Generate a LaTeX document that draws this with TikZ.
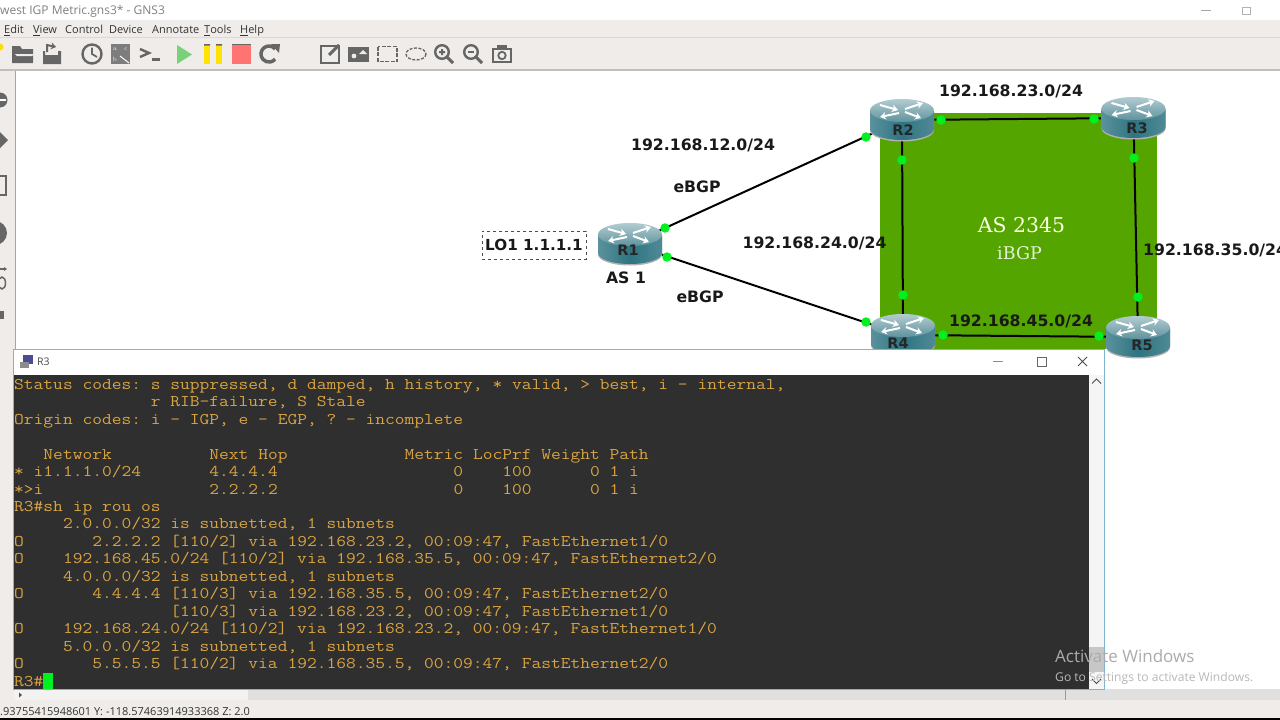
\documentclass[tikz,border=0pt]{standalone}
\usepackage{fontspec}
\usepackage{graphicx}
\usetikzlibrary{arrows.meta}
\newfontfamily\labfont[Scale=1]{DejaVu Sans}
\newfontfamily\uifont{Open Sans}
\newfontfamily\asfont{DejaVu Serif}
\definecolor{dock}{HTML}{F0ECE9}
\definecolor{grn}{HTML}{55A500}
\definecolor{dot}{HTML}{00F020}
\definecolor{term}{HTML}{2F2F2F}
\definecolor{termtx}{HTML}{D9A441}
\definecolor{ico}{HTML}{666666}
\definecolor{winb}{HTML}{7FB4D4}
\definecolor{rbodyl}{HTML}{5A929C}
\definecolor{rbodym}{HTML}{2F7482}
\definecolor{rbodyr}{HTML}{4F8A95}
\definecolor{rtopa}{HTML}{B2CCD1}
\definecolor{rtopb}{HTML}{5F939D}
\tikzset{
 lab/.style={inner sep=0pt,text=black!90,font=\labfont\bfseries\fontsize{15.7}{18}\selectfont},
 link/.style={draw=black,line width=2pt},
 gdot/.style={circle,fill=dot,inner sep=0pt,minimum size=9.5pt},
 rtr/.style={inner sep=0pt,minimum width=64pt,minimum height=43pt},
 rlab/.style={inner sep=0pt,text=black!85,font=\labfont\bfseries\fontsize{14.5}{16}\selectfont},
 tl/.style={inner sep=0pt,anchor=base west,text=termtx,font=\ttfamily\fontsize{16.27}{18}\selectfont},
 ui/.style={inner sep=0pt,anchor=base west,text=black!80,font=\uifont\fontsize{11}{13}\selectfont},
 rarrow/.style={white,line width=2pt,-{Stealth[length=6pt,width=7.5pt]}},
 icl/.style={draw=ico,line width=2.4pt},
}
\newcommand\routerart[2]{%
 \begin{scope}[shift={(#1,#2)}]
  \fill[black!30] (-32,-8) -- (-32,10.5) arc[x radius=32,y radius=11,start angle=180,end angle=0] -- (32,-8) -- cycle;
  \shade[left color=rbodyl,right color=rbodyr,middle color=rbodym] (-32,-9) -- (-32,9) arc[x radius=32,y radius=11,start angle=180,end angle=0] -- (32,-9) -- cycle;
  \shade[top color=rtopa,bottom color=rtopb] (0,-9.5) ellipse[x radius=32,y radius=11.5];
  \draw[rarrow] (-22,-15) -- (-4,-10);
  \draw[rarrow] (3,-11) -- (21,-17);
  \draw[rarrow] (-3,-7) -- (-22,-3);
  \draw[rarrow] (3,-8) -- (19,-2);
 \end{scope}}
\newcommand\tline[3]{\node[tl] (#1) at (14,#2) {\scalebox{1.165}[1]{\frenchspacing #3}};}
\def\sk#1{\kern#1\dimexpr8.38pt\relax}
\begin{document}
\begin{tikzpicture}[x=1pt,y=-1pt]
\useasboundingbox (0,0) rectangle (1280,720);
\fill[white] (0,0) rectangle (1280,720);
% title + menu
\node[ui,text=black!50,font=\uifont\fontsize{12}{14}\selectfont] (title) at (0,14) {west IGP Metric.gns3* - GNS3};
\draw[black!35,line width=1pt] (1201,10) -- (1211,10);
\draw[black!30,line width=1pt] (1242,7) rectangle (1250,14);
\fill[dock] (0,20) rectangle (1280,70);
\draw[black!15] (0,37.5) -- (1280,37.5);
\fill[black!25] (0,69) rectangle (1280,71);
\node[ui] (m1) at (4,34) {\underline{E}dit};
\node[ui] (m2) at (33,34) {\underline{V}iew};
\node[ui] (m3) at (65,34) {Control};
\node[ui] (m4) at (109,34) {Device};
\node[ui] (m5) at (152,34) {Annotate};
\node[ui] (m6) at (204,34) {\underline{T}ools};
\node[ui] (m7) at (240,34) {\underline{H}elp};
% toolbar icons
\fill[yellow!80!orange] (0,47) circle (3.5);
\fill[ico] (12,46) -- (20,46) -- (22,49) -- (33,49) -- (33,63) -- (12,63) -- cycle;
\fill[dock] (15,54) -- (34,54) -- (32,56) -- (17,56) -- cycle;
\fill[ico] (43,51) -- (45,51) -- (45,55) -- (58,55) -- (58,51) -- (61,51) -- (61,64) -- (43,64) -- cycle;
\draw[ico,line width=2pt,-{Stealth[length=5pt,width=7pt]}] (47,52) -- (47,45) -- (56,47);
\draw[icl] (92,54) circle (9.5);
\draw[ico,line width=1.8pt] (92,47.5) -- (92,54) -- (97,57);
\fill[ico!85] (111,44) rectangle (130,64);
\draw[white,line width=1pt] (120,56) -- (129,63);
\node[inner sep=0pt,text=white,font=\fontsize{6}{6}\selectfont] (ia) at (115,49) {a};
\node[inner sep=0pt,text=white,font=\fontsize{6}{6}\selectfont] (ic) at (126,49) {c};
\node[inner sep=0pt,text=white,font=\fontsize{6}{6}\selectfont] (ibb) at (115,59) {b};
\draw[ico,line width=2.4pt] (140,49) -- (149,53) -- (140,57);
\draw[ico,line width=2.4pt] (152,59.5) -- (160,59.5);
\fill[green!50!gray!70!white] (177,45) -- (177,64) -- (192,54.5) -- cycle;
\fill[yellow!85!orange] (204,45) rectangle (210,64);
\fill[yellow!85!orange] (216,45) rectangle (222,64);
\fill[black!60] (204,44) rectangle (210,45.5) (216,44) rectangle (222,45.5);
\fill[red!55!white] (232,45) rectangle (251,64);
\fill[black!60] (232,44) rectangle (251,45);
\draw[ico,line width=3.5pt] (275.1,48.9) arc[start angle=-40,end angle=-320,radius=8];
\fill[ico] (271,44) -- (280,44) -- (279,53) -- cycle;
\draw[icl] (321,46) rectangle (339,63);
\draw[ico,line width=3pt] (329,55) -- (339,45);
\fill[ico] (348,47) rectangle (369,62);
\fill[dock] (354,56) circle (2.4);
\fill[dock] (359,54) -- (367,54) -- (363,50) -- cycle;
\draw[ico,line width=1.7pt,dash pattern=on 4pt off 1.5pt] (378,46.5) rectangle (397,61.5);
\draw[ico,line width=1.3pt,dash pattern=on 3pt off 1.5pt] (416,54) ellipse[x radius=10,y radius=6];
\draw[icl] (442,52) circle (6.8);
\draw[ico,line width=3pt] (447,57) -- (453,63);
\fill[ico] (439,51) rectangle (445,53) (441,49) rectangle (443,55);
\draw[icl] (471,52) circle (6.8);
\draw[ico,line width=3pt] (476,57) -- (482,63);
\fill[ico] (468,51) rectangle (474,53);
\draw[icl] (493,49) rectangle (511,62);
\fill[ico] (497,45) rectangle (507,48);
\draw[ico,line width=1.8pt] (502,55.5) circle (3.7);
% left dock
\fill[dock] (0,71) rectangle (15,720);
\draw[black!35,line width=1pt] (15,71) -- (15,350);
\fill[ico] (0,100) circle (7.5);
\fill[white] (0,99) rectangle (6,101);
\fill[ico] (0,132) -- (8,140) -- (0,148) -- cycle;
\draw[ico,line width=2.5pt] (-2,176) rectangle (6,195);
\fill[ico] (-5,233) circle (12);
\draw[ico,line width=1.5pt,-{Stealth[length=3pt,width=4pt]}] (0,269) -- (7,269);
\draw[ico,line width=1.5pt] (2,283) ellipse[x radius=3.5,y radius=6];
\fill[ico] (0,311) rectangle (4,319);
% bottom
\fill[dock] (0,700) rectangle (1280,718);
\fill[black] (0,718) rectangle (1280,720);
\fill[black!12] (14,689) rectangle (1280,700);
\fill[black!5] (14,689) rectangle (248,700);
\draw[black!40] (1065,689) -- (1065,700);
\fill[black!70] (19,692.5) -- (19,697.5) -- (22,695) -- cycle;
\node[ui] (status) at (0,715) {.93755415948601 Y: -118.57463914933368 Z: 2.0};
% topology
\fill[grn] (880,113) rectangle (1157,349);
\node[rtr] (R1) at (630,244) {};
\node[rtr] (R2) at (902,120) {};
\node[rtr] (R3) at (1133.5,118) {};
\node[rtr] (R4) at (903,335) {};
\node[rtr] (R5) at (1138,337) {};
\draw[link] (R1.center) -- (R2.center);
\draw[link] (R1.center) -- (R4.center);
\draw[link] (R2.center) -- (R3.center);
\draw[link] (R2.center) -- (R4.center);
\draw[link] (R3.center) -- (R5.center);
\draw[link] (R4.center) -- (R5.center);
\routerart{630}{244}\routerart{902}{120}\routerart{1133.5}{118}\routerart{903}{335}\routerart{1138}{337}
\node[rlab] (R1l) at (628,250) {R1};
\node[rlab] (R2l) at (903,130) {R2};
\node[rlab] (R3l) at (1137,128) {R3};
\node[rlab] (R4l) at (898,343) {R4};
\node[rlab] (R5l) at (1142,345) {R5};
\node[gdot] (d1) at (665,228) {};
\node[gdot] (d2) at (866,137) {};
\node[gdot] (d3) at (667,257) {};
\node[gdot] (d4) at (866,322) {};
\node[gdot] (d5) at (941,120) {};
\node[gdot] (d6) at (1094,119) {};
\node[gdot] (d7) at (902,160) {};
\node[gdot] (d8) at (903,295) {};
\node[gdot] (d9) at (1134,158) {};
\node[gdot] (d10) at (1138,297) {};
\node[gdot] (d11) at (943,335) {};
\node[gdot] (d12) at (1099,336) {};
\node[lab] (n12) at (703,145.5) {192.168.12.0/24};
\node[lab] (n23) at (1011,91.5) {192.168.23.0/24};
\node[lab] (n24) at (814.5,243.5) {192.168.24.0/24};
\node[lab,anchor=west] (n35) at (1143,250.5) {192.168.35.0/24};
\node[lab] (n45) at (1021,321.5) {192.168.45.0/24};
\node[lab] (e1) at (697,186.5) {eBGP};
\node[lab] (e2) at (700,296.5) {eBGP};
\node[lab] (as1) at (626,277.5) {AS 1};
\node[lab,draw=black!70,dashed,line width=.6pt,minimum width=104pt,minimum height=28pt,font=\labfont\bfseries\fontsize{15.2}{18}\selectfont] (lo) at (534,245) {LO1 1.1.1.1};
\node[inner sep=0pt,text=white!90!yellow,font=\asfont\fontsize{20.4}{24}\selectfont] (as) at (1021.5,225) {AS 2345};
\node[inner sep=0pt,text=white!85!grn,font=\asfont\fontsize{17.5}{22}\selectfont] (ib) at (1019.5,253) {iBGP};
% terminal window
\fill[white] (13,349) rectangle (1104,690);
\fill[term] (14,375) rectangle (1089,689);
\fill[black!4] (1089,375) rectangle (1104,689);
\fill[black!22] (1089,647) rectangle (1104,672);
\draw[winb,line width=1pt] (13.5,349.5) rectangle (1104,689.5);
\draw[black!70,line width=1pt] (1092,383.5) -- (1096.5,379) -- (1101,383.5);
\draw[black!70,line width=1pt] (1092,679) -- (1096.5,683.5) -- (1101,679);
\fill[blue!40!black!70] (23,355) rectangle (33,364);
\fill[black!45] (20,362) rectangle (29,368);
\node[ui,text=black!70,font=\uifont\fontsize{10.5}{12}\selectfont] (wt) at (37,365) {R3};
\draw[black!45,line width=1pt] (993,361.5) -- (1003,361.5);
\draw[black!60,line width=1pt] (1037.5,357) rectangle (1046,366);
\draw[black!70,line width=1pt] (1078,357) -- (1087,366) (1078,366) -- (1087,357);
\tline{t1}{389}{Status codes: s suppressed, d damped, h history, * valid, > best, i - internal,}
\tline{t2}{406}{\sk{14}r RIB-failure, S Stale}
\tline{t3}{424}{Origin codes: i - IGP, e - EGP, ? - incomplete}
\tline{t4}{459}{\sk{3}Network\sk{10}Next Hop\sk{12}Metric LocPrf Weight Path}
\tline{t5}{476}{* i1.1.1.0/24\sk{7}4.4.4.4\sk{18}0\sk{4}100\sk{6}0 1 i}
\tline{t6}{494}{*>i\sk{17}2.2.2.2\sk{18}0\sk{4}100\sk{6}0 1 i}
\tline{t7}{511}{R3\#sh ip rou os}
\tline{t8}{528.5}{\sk{5}2.0.0.0/32 is subnetted, 1 subnets}
\tline{t9}{546}{O\sk{7}2.2.2.2 [110/2] via 192.168.23.2, 00:09:47, FastEthernet1/0}
\tline{t10}{563.5}{O\sk{4}192.168.45.0/24 [110/2] via 192.168.35.5, 00:09:47, FastEthernet2/0}
\tline{t11}{581}{\sk{5}4.0.0.0/32 is subnetted, 1 subnets}
\tline{t12}{598.5}{O\sk{7}4.4.4.4 [110/3] via 192.168.35.5, 00:09:47, FastEthernet2/0}
\tline{t13}{616}{\sk{16}[110/3] via 192.168.23.2, 00:09:47, FastEthernet1/0}
\tline{t14}{633.5}{O\sk{4}192.168.24.0/24 [110/2] via 192.168.23.2, 00:09:47, FastEthernet1/0}
\tline{t15}{651}{\sk{5}5.0.0.0/32 is subnetted, 1 subnets}
\tline{t16}{668}{O\sk{7}5.5.5.5 [110/2] via 192.168.35.5, 00:09:47, FastEthernet2/0}
\tline{t17}{686}{R3\#}
\fill[dot] (43,673) rectangle (53,689);
% watermark
\node[ui,text=black!33,font=\uifont\fontsize{17}{20}\selectfont] (w1) at (1055,662) {Activate Windows};
\node[ui,text=black!28,font=\uifont\fontsize{12.1}{15}\selectfont] (w2) at (1055,681) {Go to Settings to activate Windows.};
\end{tikzpicture}
\end{document}
